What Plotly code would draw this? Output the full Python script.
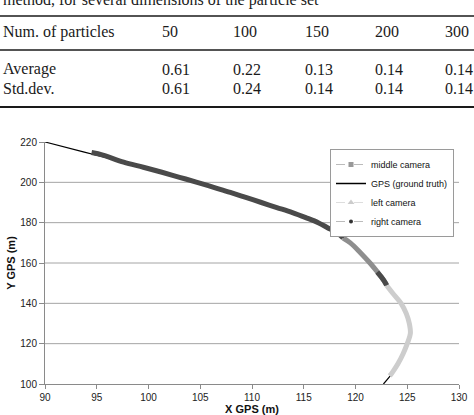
import plotly.graph_objects as go

# ---------------- data ----------------
caption_line = "method, for several dimensions of the particle set"
row_header = "Num. of particles"
particles = ["50", "100", "150", "200", "300"]
average = [0.61, 0.22, 0.13, 0.14, 0.14]
std_dev = [0.61, 0.24, 0.14, 0.14, 0.14]

gps_x = [90.0, 93.8, 97.6, 101.3, 104.7, 107.9, 110.9, 113.9, 116.4, 118.2, 119.5,
         120.5, 121.4, 122.2, 122.9, 123.6, 124.4, 124.9, 125.2, 125.3, 125.0,
         124.6, 124.1, 123.5, 122.7]
gps_y = [220, 215, 210, 205, 200, 195, 190, 185, 180, 175, 170,
         165, 160, 155, 150, 145, 140, 135, 130, 125, 120,
         115, 110, 105, 100]

right_x = [94.5, 95.6, 97.6, 99.5, 101.3, 103.0, 104.7, 106.3, 107.9, 109.4, 110.9,
           112.4, 113.9, 115.2, 116.4, 117.3, 118.2, 118.8, None,
           122.1, 122.5, 122.9, 123.0]
right_y = [214.8, 213.5, 210, 207.5, 205, 202.5, 200, 197.5, 195, 192.5, 190,
           187.5, 185, 182.5, 180, 177.5, 175, 172.4, None,
           155.5, 153, 150, 149]

middle_x = [118.8, 119.5, 120.5, 121.4, 122.2, 122.9, 123.0]
middle_y = [172.4, 170, 165, 160, 155, 150, 149]

left_x = [123.0, 123.6, 124.4, 124.9, 125.2, 125.3, 125.0, 124.6, 124.1, 123.6, 123.3]
left_y = [149, 145, 140, 135, 130, 125, 120, 115, 110, 106, 104]

x_ticks = [90, 95, 100, 105, 110, 115, 120, 125, 130]
y_ticks = [100, 120, 140, 160, 180, 200, 220]
y_grid = [120, 140, 160, 180, 200]

# ---------------- layout geometry ----------------
W, H = 474, 415
L, R, T, B = 45, 15, 142, 31
PW, PH = W - L - R, H - T - B


def px(xp):
    return (xp - L) / PW


def py(yp):
    return (H - B - yp) / PH


SERIF = "Liberation Serif, Times New Roman, serif"
SANS = "Liberation Sans, Arial, sans-serif"

C_RIGHT = "#4a4a4a"
C_MID = "#8e8e8e"
C_LEFT = "#cdcdcd"

fig = go.Figure()

# data traces (bands)
fig.add_trace(go.Scatter(x=gps_x, y=gps_y, mode="lines", line=dict(color="black", width=1.2, shape="spline"),
                         showlegend=False, hoverinfo="skip"))
fig.add_trace(go.Scatter(x=left_x, y=left_y, mode="lines", line=dict(color=C_LEFT, width=5, shape="spline"),
                         showlegend=False))
fig.add_trace(go.Scatter(x=middle_x, y=middle_y, mode="lines", line=dict(color=C_MID, width=5, shape="spline"),
                         showlegend=False))
fig.add_trace(go.Scatter(x=right_x, y=right_y, mode="lines", line=dict(color=C_RIGHT, width=5, shape="spline"),
                         showlegend=False))

# legend entries
fig.add_trace(go.Scatter(x=[None], y=[None], mode="lines+markers", name="middle camera",
                         line=dict(color="#bbbbbb", width=1, dash="dash"),
                         marker=dict(symbol="square", size=5, color="#999999"), legendrank=1))
fig.add_trace(go.Scatter(x=[None], y=[None], mode="lines", name="GPS (ground truth)",
                         line=dict(color="black", width=1.5), legendrank=2))
fig.add_trace(go.Scatter(x=[None], y=[None], mode="lines+markers", name="left camera",
                         line=dict(color="#dddddd", width=1, dash="dash"),
                         marker=dict(symbol="triangle-up", size=6, color="#cccccc"), legendrank=3))
fig.add_trace(go.Scatter(x=[None], y=[None], mode="lines+markers", name="right camera",
                         line=dict(color="#bbbbbb", width=1, dash="dash"),
                         marker=dict(symbol="circle", size=4, color="#333333"), legendrank=4))

shapes = []
for g in y_grid:
    shapes.append(dict(type="line", xref="x", yref="y", x0=x_ticks[0], x1=x_ticks[-1], y0=g, y1=g,
                       line=dict(color="#a4a4a4", width=1), layer="below"))
# table rules
for yp, wdt in [(16, 1.6), (50, 1.6), (107, 2)]:
    shapes.append(dict(type="line", xref="paper", yref="paper", x0=px(0), x1=px(W), y0=py(yp), y1=py(yp),
                       line=dict(color="#1a1a1a", width=wdt)))

annotations = []


def txt(text, xp, yp, size=16, anchor="left"):
    annotations.append(dict(text=text, x=px(xp), y=py(yp), xref="paper", yref="paper",
                            xanchor=anchor, yanchor="middle", showarrow=False,
                            font=dict(family=SERIF, size=size, color="#1a1a1a")))


txt(caption_line, 1, 0)
col_x = [160, 231, 303, 373, 443]
txt(row_header, 1, 32)
txt("Average", 1, 69)
txt("Std.dev.", 1, 89)
for cx, p, a, s in zip(col_x, particles, average, std_dev):
    txt(p, cx, 32)
    txt(f"{a:.2f}", cx, 69)
    txt(f"{s:.2f}", cx, 89)

fig.update_layout(
    width=W, height=H,
    margin=dict(l=L, r=R, t=T, b=B, autoexpand=False),
    paper_bgcolor="white", plot_bgcolor="white",
    font=dict(family=SANS, size=10, color="#222222"),
    xaxis=dict(range=[90, 130], tickvals=x_ticks, showgrid=False, zeroline=False,
               showline=True, linecolor="#8a8a8a", linewidth=1,
               ticks="outside", ticklen=4, tickcolor="#8a8a8a",
               tickfont=dict(family=SANS, size=10, color="#222222"),
               title=dict(text="<b>X GPS (m)</b>", font=dict(family=SANS, size=11, color="#111111"), standoff=2),
               automargin=False),
    yaxis=dict(range=[100, 220], tickvals=y_ticks, showgrid=False, zeroline=False,
               showline=True, linecolor="#8a8a8a", linewidth=1,
               ticks="outside", ticklen=5, tickcolor="#8a8a8a",
               tickfont=dict(family=SANS, size=10, color="#222222"),
               title=dict(text="<b>Y GPS (m)</b>", font=dict(family=SANS, size=11, color="#111111"), standoff=2),
               automargin=False),
    legend=dict(x=px(330), y=py(149), xanchor="left", yanchor="top",
                bgcolor="white", bordercolor="#9a9a9a", borderwidth=1,
                font=dict(family=SANS, size=9, color="#111111"), itemwidth=30,
                tracegroupgap=0),
    shapes=shapes,
    annotations=annotations,
)

fig.write_html("out.html")
